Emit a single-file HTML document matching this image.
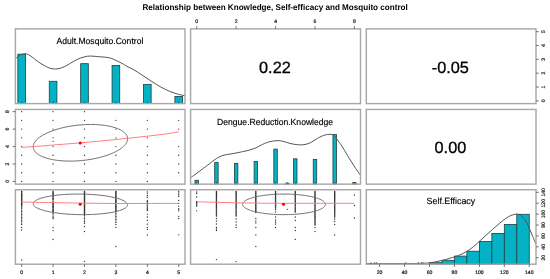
<!DOCTYPE html>
<html><head><meta charset="utf-8"><title>Relationship between Knowledge, Self-efficacy and Mosquito control</title>
<style>html,body{margin:0;padding:0;background:#fff;width:550px;height:279px;overflow:hidden}svg{display:block}</style>
</head><body>
<svg width="550" height="279" viewBox="0 0 550 279" text-rendering="geometricPrecision">
<rect width="550" height="279" fill="#fff"/>
<text x="275.1" y="9.6" text-rendering="geometricPrecision" text-anchor="middle" font-family="Liberation Sans, Arial, sans-serif" font-weight="bold" font-size="8.35" textLength="265.3" lengthAdjust="spacingAndGlyphs" fill="#000">Relationship between Knowledge, Self-efficacy and Mosquito control</text>
<rect x="17.85" y="54.2" width="7.66" height="49.4" fill="#03B2C4" stroke="#1f3f44" stroke-width="0.8"/>
<rect x="49.26" y="81.29" width="7.66" height="22.31" fill="#03B2C4" stroke="#1f3f44" stroke-width="0.8"/>
<rect x="80.66" y="63.66" width="7.66" height="39.94" fill="#03B2C4" stroke="#1f3f44" stroke-width="0.8"/>
<rect x="112.07" y="65.55" width="7.66" height="38.05" fill="#03B2C4" stroke="#1f3f44" stroke-width="0.8"/>
<rect x="143.48" y="84.58" width="7.66" height="19.02" fill="#03B2C4" stroke="#1f3f44" stroke-width="0.8"/>
<rect x="174.89" y="96.43" width="7.66" height="7.17" fill="#03B2C4" stroke="#1f3f44" stroke-width="0.8"/>
<line x1="21.68" y1="103.6" x2="21.68" y2="101.6" stroke="#333" stroke-width="0.8"/>
<line x1="53.09" y1="103.6" x2="53.09" y2="101.6" stroke="#333" stroke-width="0.8"/>
<line x1="84.5" y1="103.6" x2="84.5" y2="101.6" stroke="#333" stroke-width="0.8"/>
<line x1="115.9" y1="103.6" x2="115.9" y2="101.6" stroke="#333" stroke-width="0.8"/>
<line x1="147.31" y1="103.6" x2="147.31" y2="101.6" stroke="#333" stroke-width="0.8"/>
<line x1="178.72" y1="103.6" x2="178.72" y2="101.6" stroke="#333" stroke-width="0.8"/>
<path d="M15.4,58.6 C16.17,58.03 18.42,56.02 20,55.2 C21.58,54.38 23.23,53.65 24.9,53.7 C26.57,53.75 28.18,54.45 30,55.5 C31.82,56.55 33.97,58.65 35.8,60 C37.63,61.35 39.18,62.47 41,63.6 C42.82,64.73 45.03,65.98 46.7,66.8 C48.37,67.62 49.53,68.13 51,68.5 C52.47,68.87 53.92,69.05 55.5,69 C57.08,68.95 58.87,68.65 60.5,68.2 C62.13,67.75 63.8,67.03 65.3,66.3 C66.8,65.57 68.13,64.62 69.5,63.8 C70.87,62.98 72.25,62.1 73.5,61.4 C74.75,60.7 75.77,60.18 77,59.6 C78.23,59.02 79.15,58.47 80.9,57.9 C82.65,57.33 85.48,56.48 87.5,56.2 C89.52,55.92 91.37,56.13 93,56.2 C94.63,56.27 95.63,56.47 97.3,56.6 C98.97,56.73 101.18,56.83 103,57 C104.82,57.17 106.7,57.33 108.2,57.6 C109.7,57.87 110.73,58.15 112,58.6 C113.27,59.05 114.5,59.68 115.8,60.3 C117.1,60.92 118.52,61.65 119.8,62.3 C121.08,62.95 122.13,63.43 123.5,64.2 C124.87,64.97 126.25,65.95 128,66.9 C129.75,67.85 131.52,68.45 134,69.9 C136.48,71.35 139.92,73.65 142.9,75.6 C145.88,77.55 148.92,79.7 151.9,81.6 C154.88,83.5 157.82,85.37 160.8,87 C163.78,88.63 166.82,90.17 169.8,91.4 C172.78,92.63 176.13,93.67 178.7,94.4 C181.27,95.13 184.12,95.57 185.2,95.8" fill="none" stroke="#555555" stroke-width="1.0" stroke-linejoin="round"/>
<text x="99.9" y="43.9" text-anchor="middle" font-family="Liberation Sans, Arial, sans-serif" font-size="8.85" textLength="86.9" lengthAdjust="spacingAndGlyphs" fill="#000" stroke="#000" stroke-width="0.15">Adult.Mosquito.Control</text>
<rect x="194.98" y="180.3" width="3.46" height="3.85" fill="#03B2C4" stroke="#1f3f44" stroke-width="0.8"/>
<rect x="214.69" y="162.6" width="3.46" height="21.55" fill="#03B2C4" stroke="#1f3f44" stroke-width="0.8"/>
<rect x="234.4" y="163.4" width="3.46" height="20.75" fill="#03B2C4" stroke="#1f3f44" stroke-width="0.8"/>
<rect x="254.11" y="161.4" width="3.46" height="22.75" fill="#03B2C4" stroke="#1f3f44" stroke-width="0.8"/>
<rect x="273.82" y="149.1" width="3.46" height="35.05" fill="#03B2C4" stroke="#1f3f44" stroke-width="0.8"/>
<rect x="285.65" y="183.2" width="3.46" height="0.95" fill="#03B2C4" stroke="#1f3f44" stroke-width="0.8"/>
<rect x="293.53" y="158.8" width="3.46" height="25.35" fill="#03B2C4" stroke="#1f3f44" stroke-width="0.8"/>
<rect x="313.24" y="159.4" width="3.46" height="24.75" fill="#03B2C4" stroke="#1f3f44" stroke-width="0.8"/>
<rect x="332.95" y="134.5" width="3.46" height="49.65" fill="#03B2C4" stroke="#1f3f44" stroke-width="0.8"/>
<rect x="352.66" y="182.6" width="3.46" height="1.55" fill="#03B2C4" stroke="#1f3f44" stroke-width="0.8"/>
<line x1="196.71" y1="184.15" x2="196.71" y2="182.15" stroke="#333" stroke-width="0.8"/>
<line x1="216.42" y1="184.15" x2="216.42" y2="182.15" stroke="#333" stroke-width="0.8"/>
<line x1="236.13" y1="184.15" x2="236.13" y2="182.15" stroke="#333" stroke-width="0.8"/>
<line x1="255.84" y1="184.15" x2="255.84" y2="182.15" stroke="#333" stroke-width="0.8"/>
<line x1="275.55" y1="184.15" x2="275.55" y2="182.15" stroke="#333" stroke-width="0.8"/>
<line x1="287.38" y1="184.15" x2="287.38" y2="182.15" stroke="#333" stroke-width="0.8"/>
<line x1="295.26" y1="184.15" x2="295.26" y2="182.15" stroke="#333" stroke-width="0.8"/>
<line x1="314.97" y1="184.15" x2="314.97" y2="182.15" stroke="#333" stroke-width="0.8"/>
<line x1="334.68" y1="184.15" x2="334.68" y2="182.15" stroke="#333" stroke-width="0.8"/>
<line x1="354.39" y1="184.15" x2="354.39" y2="182.15" stroke="#333" stroke-width="0.8"/>
<path d="M190.7,177.65 C191.42,177.13 193.27,175.82 195,174.55 C196.73,173.28 199.35,171.35 201.1,170.05 C202.85,168.75 204.05,167.83 205.5,166.75 C206.95,165.67 208.55,164.52 209.8,163.55 C211.05,162.58 211.9,161.78 213,160.95 C214.1,160.12 215.23,159.28 216.4,158.55 C217.57,157.82 218.73,157.12 220,156.55 C221.27,155.98 222.5,155.53 224,155.15 C225.5,154.77 227.37,154.53 229,154.25 C230.63,153.97 232.3,153.72 233.8,153.45 C235.3,153.18 236.55,152.95 238,152.65 C239.45,152.35 240.83,152.02 242.5,151.65 C244.17,151.28 245.77,151.08 248,150.45 C250.23,149.82 253.9,148.63 255.9,147.85 C257.9,147.07 258.55,146.48 260,145.75 C261.45,145.02 263.18,144.07 264.6,143.45 C266.02,142.83 267.22,142.43 268.5,142.05 C269.78,141.67 271.05,141.37 272.3,141.15 C273.55,140.93 274.73,140.82 276,140.75 C277.27,140.68 278.73,140.65 279.9,140.75 C281.07,140.85 281.9,141.08 283,141.35 C284.1,141.62 285.33,142.02 286.5,142.35 C287.67,142.68 288.73,143.03 290,143.35 C291.27,143.67 292.52,144 294.1,144.25 C295.68,144.5 298.02,144.77 299.5,144.85 C300.98,144.93 301.75,144.88 303,144.75 C304.25,144.62 305.75,144.4 307,144.05 C308.25,143.7 309.33,143.23 310.5,142.65 C311.67,142.07 312.83,141.25 314,140.55 C315.17,139.85 316.35,139.12 317.5,138.45 C318.65,137.78 319.55,137.15 320.9,136.55 C322.25,135.95 324.25,135.22 325.6,134.85 C326.95,134.48 327.83,134.38 329,134.35 C330.17,134.32 331.6,134.27 332.6,134.65 C333.6,135.03 334.23,135.85 335,136.65 C335.77,137.45 336.45,138.43 337.2,139.45 C337.95,140.47 338.72,141.65 339.5,142.75 C340.28,143.85 340.53,143.88 341.9,146.05 C343.27,148.22 345.68,152.43 347.7,155.75 C349.72,159.07 351.85,162.67 354,165.95 C356.15,169.23 359.5,173.87 360.6,175.45" fill="none" stroke="#555555" stroke-width="1.0" stroke-linejoin="round"/>
<text x="275.1" y="124.5" text-anchor="middle" font-family="Liberation Sans, Arial, sans-serif" font-size="8.85" textLength="116.1" lengthAdjust="spacingAndGlyphs" fill="#000" stroke="#000" stroke-width="0.15">Dengue.Reduction.Knowledge</text>
<rect x="429.49" y="262.7" width="12.47" height="1.5" fill="#03B2C4" stroke="#1f3f44" stroke-width="0.8"/>
<rect x="441.96" y="260.3" width="12.47" height="3.9" fill="#03B2C4" stroke="#1f3f44" stroke-width="0.8"/>
<rect x="454.43" y="256.1" width="12.47" height="8.1" fill="#03B2C4" stroke="#1f3f44" stroke-width="0.8"/>
<rect x="466.9" y="251.2" width="12.47" height="13" fill="#03B2C4" stroke="#1f3f44" stroke-width="0.8"/>
<rect x="479.38" y="241.4" width="12.47" height="22.8" fill="#03B2C4" stroke="#1f3f44" stroke-width="0.8"/>
<rect x="491.85" y="233.4" width="12.47" height="30.8" fill="#03B2C4" stroke="#1f3f44" stroke-width="0.8"/>
<rect x="504.32" y="224.4" width="12.47" height="39.8" fill="#03B2C4" stroke="#1f3f44" stroke-width="0.8"/>
<rect x="516.79" y="214.3" width="12.47" height="49.9" fill="#03B2C4" stroke="#1f3f44" stroke-width="0.8"/>
<line x1="371.11" y1="264.2" x2="371.11" y2="262.2" stroke="#333" stroke-width="0.8"/>
<line x1="374.61" y1="264.2" x2="374.61" y2="262.2" stroke="#333" stroke-width="0.8"/>
<line x1="376.48" y1="264.2" x2="376.48" y2="262.2" stroke="#333" stroke-width="0.8"/>
<line x1="405.79" y1="264.2" x2="405.79" y2="262.2" stroke="#333" stroke-width="0.8"/>
<line x1="418.51" y1="264.2" x2="418.51" y2="262.2" stroke="#333" stroke-width="0.8"/>
<line x1="421.5" y1="264.2" x2="421.5" y2="262.2" stroke="#333" stroke-width="0.8"/>
<line x1="423" y1="264.2" x2="423" y2="262.2" stroke="#333" stroke-width="0.8"/>
<path d="M366.2,263.6 C371.83,263.6 391.53,263.63 400,263.6 C408.47,263.57 412.12,263.52 417,263.4 C421.88,263.28 425.12,263.4 429.3,262.9 C433.48,262.4 437.83,261.43 442.1,260.4 C446.37,259.37 451.75,257.7 454.9,256.7 C458.05,255.7 458.97,255.3 461,254.4 C463.03,253.5 464.97,252.63 467.1,251.3 C469.23,249.97 471.7,248.12 473.8,246.4 C475.9,244.68 477.63,242.88 479.7,241 C481.77,239.12 484.03,237.05 486.2,235.1 C488.37,233.15 490.52,231.23 492.7,229.3 C494.88,227.37 497.12,225.32 499.3,223.5 C501.48,221.68 503.87,219.73 505.8,218.4 C507.73,217.07 509.32,216.18 510.9,215.5 C512.48,214.82 514.08,214.5 515.3,214.3 C516.52,214.1 517,213.87 518.2,214.3 C519.4,214.73 521.17,215.62 522.5,216.9 C523.83,218.18 524.98,219.93 526.2,222 C527.42,224.07 528.72,226.88 529.8,229.3 C530.88,231.72 531.67,234.05 532.7,236.5 C533.73,238.95 535.45,242.75 536,244" fill="none" stroke="#555555" stroke-width="1.0" stroke-linejoin="round"/>
<text x="450.9" y="204.3" text-anchor="middle" font-family="Liberation Sans, Arial, sans-serif" font-size="9.0" textLength="48.6" lengthAdjust="spacingAndGlyphs" fill="#000" stroke="#000" stroke-width="0.15">Self.Efficacy</text>
<text x="274.9" y="72.8" text-anchor="middle" font-family="Liberation Sans, Arial, sans-serif" font-size="16.3" fill="#000" stroke="#000" stroke-width="0.3">0.22</text>
<text x="450.3" y="72.7" text-anchor="middle" font-family="Liberation Sans, Arial, sans-serif" font-size="16.3" fill="#000" stroke="#000" stroke-width="0.3">-0.05</text>
<text x="450.4" y="152.9" text-anchor="middle" font-family="Liberation Sans, Arial, sans-serif" font-size="16.3" fill="#000" stroke="#000" stroke-width="0.3">0.00</text>
<circle cx="21.68" cy="181.44" r="0.66" fill="#303030"/>
<circle cx="21.68" cy="172.72" r="0.66" fill="#303030"/>
<circle cx="21.68" cy="163.99" r="0.66" fill="#303030"/>
<circle cx="21.68" cy="155.26" r="0.66" fill="#303030"/>
<circle cx="21.68" cy="146.54" r="0.66" fill="#303030"/>
<circle cx="21.68" cy="137.81" r="0.66" fill="#303030"/>
<circle cx="21.68" cy="129.08" r="0.66" fill="#303030"/>
<circle cx="21.68" cy="120.36" r="0.66" fill="#303030"/>
<circle cx="21.68" cy="111.63" r="0.66" fill="#303030"/>
<circle cx="53.09" cy="181.44" r="0.66" fill="#303030"/>
<circle cx="53.09" cy="172.72" r="0.66" fill="#303030"/>
<circle cx="53.09" cy="163.99" r="0.66" fill="#303030"/>
<circle cx="53.09" cy="155.26" r="0.66" fill="#303030"/>
<circle cx="53.09" cy="146.54" r="0.66" fill="#303030"/>
<circle cx="53.09" cy="137.81" r="0.66" fill="#303030"/>
<circle cx="53.09" cy="129.08" r="0.66" fill="#303030"/>
<circle cx="53.09" cy="120.36" r="0.66" fill="#303030"/>
<circle cx="53.09" cy="111.63" r="0.66" fill="#303030"/>
<circle cx="84.5" cy="181.44" r="0.66" fill="#303030"/>
<circle cx="84.5" cy="172.72" r="0.66" fill="#303030"/>
<circle cx="84.5" cy="163.99" r="0.66" fill="#303030"/>
<circle cx="84.5" cy="155.26" r="0.66" fill="#303030"/>
<circle cx="84.5" cy="146.54" r="0.66" fill="#303030"/>
<circle cx="84.5" cy="137.81" r="0.66" fill="#303030"/>
<circle cx="84.5" cy="129.08" r="0.66" fill="#303030"/>
<circle cx="84.5" cy="120.36" r="0.66" fill="#303030"/>
<circle cx="84.5" cy="111.63" r="0.66" fill="#303030"/>
<circle cx="53.09" cy="141.3" r="0.66" fill="#303030"/>
<circle cx="115.9" cy="181.44" r="0.66" fill="#303030"/>
<circle cx="115.9" cy="172.72" r="0.66" fill="#303030"/>
<circle cx="115.9" cy="163.99" r="0.66" fill="#303030"/>
<circle cx="115.9" cy="155.26" r="0.66" fill="#303030"/>
<circle cx="115.9" cy="146.54" r="0.66" fill="#303030"/>
<circle cx="115.9" cy="137.81" r="0.66" fill="#303030"/>
<circle cx="115.9" cy="129.08" r="0.66" fill="#303030"/>
<circle cx="115.9" cy="120.36" r="0.66" fill="#303030"/>
<circle cx="147.31" cy="181.44" r="0.66" fill="#303030"/>
<circle cx="147.31" cy="172.72" r="0.66" fill="#303030"/>
<circle cx="147.31" cy="163.99" r="0.66" fill="#303030"/>
<circle cx="147.31" cy="155.26" r="0.66" fill="#303030"/>
<circle cx="147.31" cy="146.54" r="0.66" fill="#303030"/>
<circle cx="147.31" cy="137.81" r="0.66" fill="#303030"/>
<circle cx="147.31" cy="129.08" r="0.66" fill="#303030"/>
<circle cx="147.31" cy="120.36" r="0.66" fill="#303030"/>
<circle cx="178.72" cy="172.72" r="0.66" fill="#303030"/>
<circle cx="178.72" cy="163.99" r="0.66" fill="#303030"/>
<circle cx="178.72" cy="155.26" r="0.66" fill="#303030"/>
<circle cx="178.72" cy="146.54" r="0.66" fill="#303030"/>
<circle cx="178.72" cy="129.08" r="0.66" fill="#303030"/>
<circle cx="178.72" cy="120.36" r="0.66" fill="#303030"/>
<path d="M117.28,128.47 L115.69,127.89 L114,127.35 L112.22,126.86 L110.35,126.41 L108.4,126 L106.37,125.64 L104.27,125.32 L102.1,125.06 L99.88,124.84 L97.6,124.67 L95.28,124.55 L92.91,124.48 L90.51,124.46 L88.09,124.49 L85.64,124.57 L83.18,124.7 L80.71,124.88 L78.23,125.11 L75.77,125.39 L73.32,125.72 L70.88,126.09 L68.48,126.51 L66.1,126.97 L63.77,127.48 L61.48,128.03 L59.24,128.62 L57.06,129.24 L54.95,129.91 L52.9,130.61 L50.93,131.34 L49.04,132.11 L47.24,132.9 L45.53,133.72 L43.91,134.57 L42.4,135.44 L40.98,136.32 L39.68,137.23 L38.49,138.15 L37.41,139.09 L36.45,140.03 L35.61,140.98 L34.89,141.94 L34.3,142.9 L33.84,143.86 L33.5,144.81 L33.29,145.76 L33.21,146.71 L33.26,147.64 L33.44,148.56 L33.74,149.46 L34.18,150.34 L34.74,151.21 L35.43,152.05 L36.24,152.86 L37.17,153.65 L38.22,154.41 L39.39,155.13 L40.67,155.82 L42.05,156.48 L43.54,157.1 L45.14,157.68 L46.83,158.22 L48.61,158.71 L50.48,159.17 L52.43,159.57 L54.46,159.93 L56.56,160.25 L58.72,160.52 L60.95,160.73 L63.22,160.9 L65.55,161.02 L67.91,161.09 L70.31,161.11 L72.74,161.08 L75.19,161 L77.65,160.87 L80.12,160.69 L82.59,160.46 L85.06,160.18 L87.51,159.85 L89.94,159.48 L92.35,159.06 L94.72,158.6 L97.06,158.09 L99.35,157.54 L101.58,156.96 L103.76,156.33 L105.88,155.66 L107.92,154.96 L109.89,154.23 L111.78,153.47 L113.59,152.67 L115.3,151.85 L116.91,151 L118.43,150.14 L119.84,149.25 L121.15,148.34 L122.34,147.42 L123.42,146.48 L124.38,145.54 L125.22,144.59 L125.93,143.63 L126.53,142.67 L126.99,141.71 L127.33,140.76 L127.54,139.81 L127.62,138.86 L127.57,137.93 L127.39,137.01 L127.08,136.11 L126.65,135.23 L126.08,134.37 L125.4,133.52 L124.59,132.71 L123.66,131.92 L122.61,131.16 L121.44,130.44 L120.16,129.75 L118.77,129.09 L117.28,128.47Z" fill="none" stroke="#707070" stroke-width="1.0"/>
<path d="M21.4,147.4 C24.5,147.18 33.57,146.58 40,146.1 C46.43,145.62 53.32,145.03 60,144.5 C66.68,143.97 73.43,143.47 80.1,142.9 C86.77,142.33 93.35,141.73 100,141.1 C106.65,140.47 113.33,139.78 120,139.1 C126.67,138.42 133.33,137.73 140,137 C146.67,136.27 153.55,135.53 160,134.7 C166.45,133.87 175.58,132.45 178.7,132" fill="none" stroke="#ff8080" stroke-width="1.0" stroke-linejoin="round"/>
<circle cx="80.25" cy="143" r="1.55" fill="#ff0000"/>
<circle cx="21.68" cy="191.3" r="0.75" fill="#303030"/>
<circle cx="21.68" cy="192.12" r="0.75" fill="#303030"/>
<circle cx="21.68" cy="192.93" r="0.75" fill="#303030"/>
<circle cx="21.68" cy="193.75" r="0.75" fill="#303030"/>
<circle cx="21.68" cy="194.57" r="0.75" fill="#303030"/>
<circle cx="21.68" cy="195.38" r="0.75" fill="#303030"/>
<circle cx="21.68" cy="196.2" r="0.75" fill="#303030"/>
<circle cx="21.68" cy="197.02" r="0.75" fill="#303030"/>
<circle cx="21.68" cy="197.83" r="0.75" fill="#303030"/>
<circle cx="21.68" cy="198.65" r="0.75" fill="#303030"/>
<circle cx="21.68" cy="199.47" r="0.75" fill="#303030"/>
<circle cx="21.68" cy="200.28" r="0.75" fill="#303030"/>
<circle cx="21.68" cy="201.1" r="0.75" fill="#303030"/>
<circle cx="21.68" cy="201.92" r="0.75" fill="#303030"/>
<circle cx="21.68" cy="202.73" r="0.75" fill="#303030"/>
<circle cx="21.68" cy="203.55" r="0.75" fill="#303030"/>
<circle cx="21.68" cy="204.37" r="0.75" fill="#303030"/>
<circle cx="21.68" cy="205.18" r="0.75" fill="#303030"/>
<circle cx="21.68" cy="206" r="0.75" fill="#303030"/>
<circle cx="21.68" cy="207.2" r="0.68" fill="#303030"/>
<circle cx="21.68" cy="208.64" r="0.68" fill="#303030"/>
<circle cx="21.68" cy="210.08" r="0.68" fill="#303030"/>
<circle cx="21.68" cy="211.52" r="0.68" fill="#303030"/>
<circle cx="21.68" cy="212.97" r="0.68" fill="#303030"/>
<circle cx="21.68" cy="214.41" r="0.68" fill="#303030"/>
<circle cx="21.68" cy="215.85" r="0.68" fill="#303030"/>
<circle cx="21.68" cy="217.29" r="0.68" fill="#303030"/>
<circle cx="21.68" cy="218.73" r="0.68" fill="#303030"/>
<circle cx="21.68" cy="220.18" r="0.68" fill="#303030"/>
<circle cx="21.68" cy="221.62" r="0.68" fill="#303030"/>
<circle cx="21.68" cy="223.06" r="0.68" fill="#303030"/>
<circle cx="21.68" cy="224.5" r="0.68" fill="#303030"/>
<circle cx="21.68" cy="227.5" r="0.66" fill="#303030"/>
<circle cx="21.68" cy="230" r="0.66" fill="#303030"/>
<circle cx="21.68" cy="259.9" r="0.66" fill="#303030"/>
<circle cx="53.09" cy="191.3" r="0.75" fill="#303030"/>
<circle cx="53.09" cy="192.13" r="0.75" fill="#303030"/>
<circle cx="53.09" cy="192.96" r="0.75" fill="#303030"/>
<circle cx="53.09" cy="193.79" r="0.75" fill="#303030"/>
<circle cx="53.09" cy="194.62" r="0.75" fill="#303030"/>
<circle cx="53.09" cy="195.45" r="0.75" fill="#303030"/>
<circle cx="53.09" cy="196.28" r="0.75" fill="#303030"/>
<circle cx="53.09" cy="197.11" r="0.75" fill="#303030"/>
<circle cx="53.09" cy="197.94" r="0.75" fill="#303030"/>
<circle cx="53.09" cy="198.77" r="0.75" fill="#303030"/>
<circle cx="53.09" cy="199.6" r="0.75" fill="#303030"/>
<circle cx="53.09" cy="201.1" r="0.75" fill="#303030"/>
<circle cx="53.09" cy="201.88" r="0.75" fill="#303030"/>
<circle cx="53.09" cy="202.66" r="0.75" fill="#303030"/>
<circle cx="53.09" cy="203.44" r="0.75" fill="#303030"/>
<circle cx="53.09" cy="204.21" r="0.75" fill="#303030"/>
<circle cx="53.09" cy="204.99" r="0.75" fill="#303030"/>
<circle cx="53.09" cy="205.77" r="0.75" fill="#303030"/>
<circle cx="53.09" cy="206.55" r="0.75" fill="#303030"/>
<circle cx="53.09" cy="207.33" r="0.75" fill="#303030"/>
<circle cx="53.09" cy="208.11" r="0.75" fill="#303030"/>
<circle cx="53.09" cy="208.89" r="0.75" fill="#303030"/>
<circle cx="53.09" cy="209.66" r="0.75" fill="#303030"/>
<circle cx="53.09" cy="210.44" r="0.75" fill="#303030"/>
<circle cx="53.09" cy="211.22" r="0.75" fill="#303030"/>
<circle cx="53.09" cy="212" r="0.75" fill="#303030"/>
<circle cx="53.09" cy="213.5" r="0.68" fill="#303030"/>
<circle cx="53.09" cy="214.82" r="0.68" fill="#303030"/>
<circle cx="53.09" cy="216.15" r="0.68" fill="#303030"/>
<circle cx="53.09" cy="217.48" r="0.68" fill="#303030"/>
<circle cx="53.09" cy="218.8" r="0.68" fill="#303030"/>
<circle cx="53.09" cy="227.5" r="0.66" fill="#303030"/>
<circle cx="53.09" cy="230.7" r="0.66" fill="#303030"/>
<circle cx="53.09" cy="239.5" r="0.66" fill="#303030"/>
<circle cx="84.5" cy="191.6" r="0.75" fill="#303030"/>
<circle cx="84.5" cy="192.4" r="0.75" fill="#303030"/>
<circle cx="84.5" cy="193.2" r="0.75" fill="#303030"/>
<circle cx="84.5" cy="194" r="0.75" fill="#303030"/>
<circle cx="84.5" cy="194.8" r="0.75" fill="#303030"/>
<circle cx="84.5" cy="195.6" r="0.75" fill="#303030"/>
<circle cx="84.5" cy="196.4" r="0.75" fill="#303030"/>
<circle cx="84.5" cy="197.2" r="0.75" fill="#303030"/>
<circle cx="84.5" cy="198" r="0.75" fill="#303030"/>
<circle cx="84.5" cy="198.8" r="0.75" fill="#303030"/>
<circle cx="84.5" cy="199.6" r="0.75" fill="#303030"/>
<circle cx="84.5" cy="200.4" r="0.75" fill="#303030"/>
<circle cx="84.5" cy="201.2" r="0.75" fill="#303030"/>
<circle cx="84.5" cy="202" r="0.75" fill="#303030"/>
<circle cx="84.5" cy="202.8" r="0.75" fill="#303030"/>
<circle cx="84.5" cy="203.6" r="0.75" fill="#303030"/>
<circle cx="84.5" cy="204.4" r="0.75" fill="#303030"/>
<circle cx="84.5" cy="205.2" r="0.75" fill="#303030"/>
<circle cx="84.5" cy="206" r="0.75" fill="#303030"/>
<circle cx="84.5" cy="206.8" r="0.75" fill="#303030"/>
<circle cx="84.5" cy="207.6" r="0.75" fill="#303030"/>
<circle cx="84.5" cy="208.4" r="0.75" fill="#303030"/>
<circle cx="84.5" cy="209.2" r="0.75" fill="#303030"/>
<circle cx="84.5" cy="210" r="0.75" fill="#303030"/>
<circle cx="84.5" cy="210.8" r="0.75" fill="#303030"/>
<circle cx="84.5" cy="211.6" r="0.75" fill="#303030"/>
<circle cx="84.5" cy="212.4" r="0.75" fill="#303030"/>
<circle cx="84.5" cy="213.2" r="0.75" fill="#303030"/>
<circle cx="84.5" cy="214" r="0.75" fill="#303030"/>
<circle cx="84.5" cy="215.5" r="0.68" fill="#303030"/>
<circle cx="84.5" cy="217.06" r="0.68" fill="#303030"/>
<circle cx="84.5" cy="218.62" r="0.68" fill="#303030"/>
<circle cx="84.5" cy="220.18" r="0.68" fill="#303030"/>
<circle cx="84.5" cy="221.74" r="0.68" fill="#303030"/>
<circle cx="84.5" cy="223.3" r="0.68" fill="#303030"/>
<circle cx="84.5" cy="226.4" r="0.66" fill="#303030"/>
<circle cx="84.5" cy="231.5" r="0.66" fill="#303030"/>
<circle cx="84.5" cy="261.3" r="0.66" fill="#303030"/>
<circle cx="115.9" cy="191.5" r="0.75" fill="#303030"/>
<circle cx="115.9" cy="192.29" r="0.75" fill="#303030"/>
<circle cx="115.9" cy="193.08" r="0.75" fill="#303030"/>
<circle cx="115.9" cy="193.87" r="0.75" fill="#303030"/>
<circle cx="115.9" cy="194.65" r="0.75" fill="#303030"/>
<circle cx="115.9" cy="195.44" r="0.75" fill="#303030"/>
<circle cx="115.9" cy="196.23" r="0.75" fill="#303030"/>
<circle cx="115.9" cy="197.02" r="0.75" fill="#303030"/>
<circle cx="115.9" cy="197.81" r="0.75" fill="#303030"/>
<circle cx="115.9" cy="198.6" r="0.75" fill="#303030"/>
<circle cx="115.9" cy="199.38" r="0.75" fill="#303030"/>
<circle cx="115.9" cy="200.17" r="0.75" fill="#303030"/>
<circle cx="115.9" cy="200.96" r="0.75" fill="#303030"/>
<circle cx="115.9" cy="201.75" r="0.75" fill="#303030"/>
<circle cx="115.9" cy="202.54" r="0.75" fill="#303030"/>
<circle cx="115.9" cy="203.33" r="0.75" fill="#303030"/>
<circle cx="115.9" cy="204.12" r="0.75" fill="#303030"/>
<circle cx="115.9" cy="204.9" r="0.75" fill="#303030"/>
<circle cx="115.9" cy="205.69" r="0.75" fill="#303030"/>
<circle cx="115.9" cy="206.48" r="0.75" fill="#303030"/>
<circle cx="115.9" cy="207.27" r="0.75" fill="#303030"/>
<circle cx="115.9" cy="208.06" r="0.75" fill="#303030"/>
<circle cx="115.9" cy="208.85" r="0.75" fill="#303030"/>
<circle cx="115.9" cy="209.63" r="0.75" fill="#303030"/>
<circle cx="115.9" cy="210.42" r="0.75" fill="#303030"/>
<circle cx="115.9" cy="211.21" r="0.75" fill="#303030"/>
<circle cx="115.9" cy="212" r="0.75" fill="#303030"/>
<circle cx="115.9" cy="213.5" r="0.68" fill="#303030"/>
<circle cx="115.9" cy="214.98" r="0.68" fill="#303030"/>
<circle cx="115.9" cy="216.47" r="0.68" fill="#303030"/>
<circle cx="115.9" cy="217.95" r="0.68" fill="#303030"/>
<circle cx="115.9" cy="219.43" r="0.68" fill="#303030"/>
<circle cx="115.9" cy="220.92" r="0.68" fill="#303030"/>
<circle cx="115.9" cy="222.4" r="0.68" fill="#303030"/>
<circle cx="115.9" cy="224.5" r="0.66" fill="#303030"/>
<circle cx="115.9" cy="227.5" r="0.66" fill="#303030"/>
<circle cx="115.9" cy="246.5" r="0.66" fill="#303030"/>
<circle cx="147.31" cy="192" r="0.68" fill="#303030"/>
<circle cx="147.31" cy="193.83" r="0.68" fill="#303030"/>
<circle cx="147.31" cy="195.67" r="0.68" fill="#303030"/>
<circle cx="147.31" cy="197.5" r="0.68" fill="#303030"/>
<circle cx="147.31" cy="200.4" r="0.68" fill="#303030"/>
<circle cx="147.31" cy="201.52" r="0.68" fill="#303030"/>
<circle cx="147.31" cy="202.64" r="0.68" fill="#303030"/>
<circle cx="147.31" cy="203.77" r="0.68" fill="#303030"/>
<circle cx="147.31" cy="204.89" r="0.68" fill="#303030"/>
<circle cx="147.31" cy="206.01" r="0.68" fill="#303030"/>
<circle cx="147.31" cy="207.13" r="0.68" fill="#303030"/>
<circle cx="147.31" cy="208.26" r="0.68" fill="#303030"/>
<circle cx="147.31" cy="209.38" r="0.68" fill="#303030"/>
<circle cx="147.31" cy="210.5" r="0.68" fill="#303030"/>
<circle cx="147.31" cy="214.3" r="0.66" fill="#303030"/>
<circle cx="147.31" cy="217" r="0.66" fill="#303030"/>
<circle cx="147.31" cy="220.4" r="0.66" fill="#303030"/>
<circle cx="147.31" cy="224.2" r="0.66" fill="#303030"/>
<circle cx="147.31" cy="227.5" r="0.66" fill="#303030"/>
<circle cx="147.31" cy="229.3" r="0.66" fill="#303030"/>
<circle cx="147.31" cy="234.9" r="0.66" fill="#303030"/>
<circle cx="178.72" cy="191.3" r="0.68" fill="#303030"/>
<circle cx="178.72" cy="193" r="0.68" fill="#303030"/>
<circle cx="178.72" cy="194.7" r="0.68" fill="#303030"/>
<circle cx="178.72" cy="196.4" r="0.68" fill="#303030"/>
<circle cx="178.72" cy="200.5" r="0.66" fill="#303030"/>
<circle cx="178.72" cy="203.4" r="0.66" fill="#303030"/>
<circle cx="178.72" cy="206.2" r="0.66" fill="#303030"/>
<circle cx="178.72" cy="208.6" r="0.66" fill="#303030"/>
<circle cx="178.72" cy="209.7" r="0.66" fill="#303030"/>
<circle cx="178.72" cy="210.8" r="0.66" fill="#303030"/>
<circle cx="178.72" cy="216.3" r="0.66" fill="#303030"/>
<circle cx="178.72" cy="218.5" r="0.66" fill="#303030"/>
<circle cx="178.72" cy="234.8" r="0.66" fill="#303030"/>
<path d="M47.88,211.46 L49.71,211.84 L51.63,212.2 L53.63,212.54 L55.7,212.85 L57.84,213.15 L60.04,213.41 L62.3,213.66 L64.6,213.88 L66.95,214.07 L69.34,214.24 L71.76,214.38 L74.2,214.49 L76.65,214.57 L79.12,214.63 L81.59,214.65 L84.06,214.65 L86.52,214.62 L88.96,214.57 L91.38,214.48 L93.77,214.37 L96.12,214.23 L98.43,214.06 L100.69,213.87 L102.89,213.65 L105.03,213.4 L107.11,213.13 L109.11,212.84 L111.03,212.52 L112.87,212.18 L114.62,211.82 L116.27,211.44 L117.83,211.04 L119.29,210.62 L120.63,210.18 L121.87,209.73 L123,209.26 L124,208.78 L124.89,208.29 L125.66,207.78 L126.3,207.27 L126.82,206.75 L127.21,206.22 L127.47,205.69 L127.6,205.15 L127.6,204.61 L127.48,204.07 L127.22,203.54 L126.84,203 L126.33,202.47 L125.69,201.94 L124.93,201.42 L124.05,200.91 L123.04,200.4 L121.92,199.91 L120.69,199.43 L119.35,198.96 L117.9,198.51 L116.34,198.08 L114.69,197.66 L112.95,197.26 L111.11,196.88 L109.19,196.52 L107.2,196.18 L105.13,195.86 L102.99,195.57 L100.79,195.3 L98.53,195.05 L96.22,194.84 L93.87,194.64 L91.49,194.48 L89.07,194.34 L86.63,194.23 L84.17,194.14 L81.7,194.09 L79.23,194.06 L76.76,194.06 L74.31,194.09 L71.87,194.15 L69.45,194.23 L67.06,194.34 L64.71,194.48 L62.4,194.65 L60.14,194.84 L57.94,195.06 L55.8,195.31 L53.72,195.58 L51.72,195.87 L49.8,196.19 L47.96,196.53 L46.21,196.89 L44.55,197.27 L43,197.68 L41.54,198.1 L40.19,198.53 L38.95,198.98 L37.83,199.45 L36.82,199.93 L35.93,200.43 L35.17,200.93 L34.53,201.44 L34.01,201.96 L33.62,202.49 L33.36,203.02 L33.23,203.56 L33.22,204.1 L33.35,204.64 L33.6,205.18 L33.99,205.71 L34.5,206.25 L35.14,206.77 L35.9,207.29 L36.78,207.81 L37.78,208.31 L38.9,208.8 L40.14,209.28 L41.48,209.75 L42.93,210.2 L44.48,210.64 L46.13,211.06 L47.88,211.46Z" fill="none" stroke="#707070" stroke-width="1.0"/>
<path d="M21.5,202 C26.7,202.1 42.25,202.4 52.7,202.6 C63.15,202.8 73.68,203.05 84.2,203.2 C94.72,203.35 105.27,203.46 115.8,203.5 C126.33,203.54 136.93,203.47 147.4,203.45 C157.87,203.43 173.4,203.41 178.6,203.4" fill="none" stroke="#ff8080" stroke-width="1.0" stroke-linejoin="round"/>
<circle cx="80.2" cy="204.2" r="1.55" fill="#ff0000"/>
<circle cx="196.71" cy="192" r="0.66" fill="#303030"/>
<circle cx="196.71" cy="193.5" r="0.66" fill="#303030"/>
<circle cx="196.71" cy="197" r="0.66" fill="#303030"/>
<circle cx="196.71" cy="210.8" r="0.66" fill="#303030"/>
<circle cx="196.71" cy="201.5" r="0.75" fill="#303030"/>
<circle cx="196.71" cy="202.62" r="0.75" fill="#303030"/>
<circle cx="196.71" cy="203.75" r="0.75" fill="#303030"/>
<circle cx="196.71" cy="204.88" r="0.75" fill="#303030"/>
<circle cx="196.71" cy="206" r="0.75" fill="#303030"/>
<circle cx="216.42" cy="191.5" r="0.75" fill="#303030"/>
<circle cx="216.42" cy="192.52" r="0.75" fill="#303030"/>
<circle cx="216.42" cy="193.54" r="0.75" fill="#303030"/>
<circle cx="216.42" cy="194.56" r="0.75" fill="#303030"/>
<circle cx="216.42" cy="195.58" r="0.75" fill="#303030"/>
<circle cx="216.42" cy="196.6" r="0.75" fill="#303030"/>
<circle cx="216.42" cy="197.62" r="0.75" fill="#303030"/>
<circle cx="216.42" cy="198.65" r="0.75" fill="#303030"/>
<circle cx="216.42" cy="199.67" r="0.75" fill="#303030"/>
<circle cx="216.42" cy="200.69" r="0.75" fill="#303030"/>
<circle cx="216.42" cy="201.71" r="0.75" fill="#303030"/>
<circle cx="216.42" cy="202.73" r="0.75" fill="#303030"/>
<circle cx="216.42" cy="203.75" r="0.75" fill="#303030"/>
<circle cx="216.42" cy="204.77" r="0.75" fill="#303030"/>
<circle cx="216.42" cy="205.79" r="0.75" fill="#303030"/>
<circle cx="216.42" cy="206.81" r="0.75" fill="#303030"/>
<circle cx="216.42" cy="207.83" r="0.75" fill="#303030"/>
<circle cx="216.42" cy="208.85" r="0.75" fill="#303030"/>
<circle cx="216.42" cy="209.88" r="0.75" fill="#303030"/>
<circle cx="216.42" cy="210.9" r="0.75" fill="#303030"/>
<circle cx="216.42" cy="211.92" r="0.75" fill="#303030"/>
<circle cx="216.42" cy="212.94" r="0.75" fill="#303030"/>
<circle cx="216.42" cy="213.96" r="0.75" fill="#303030"/>
<circle cx="216.42" cy="214.98" r="0.75" fill="#303030"/>
<circle cx="216.42" cy="216" r="0.75" fill="#303030"/>
<circle cx="216.42" cy="218.5" r="0.66" fill="#303030"/>
<circle cx="216.42" cy="221" r="0.66" fill="#303030"/>
<circle cx="216.42" cy="224" r="0.66" fill="#303030"/>
<circle cx="216.42" cy="227.5" r="0.66" fill="#303030"/>
<circle cx="216.42" cy="229" r="0.66" fill="#303030"/>
<circle cx="216.42" cy="230.5" r="0.66" fill="#303030"/>
<circle cx="216.42" cy="259.6" r="0.66" fill="#303030"/>
<circle cx="236.13" cy="191.5" r="0.75" fill="#303030"/>
<circle cx="236.13" cy="192.52" r="0.75" fill="#303030"/>
<circle cx="236.13" cy="193.54" r="0.75" fill="#303030"/>
<circle cx="236.13" cy="194.56" r="0.75" fill="#303030"/>
<circle cx="236.13" cy="195.58" r="0.75" fill="#303030"/>
<circle cx="236.13" cy="196.6" r="0.75" fill="#303030"/>
<circle cx="236.13" cy="197.62" r="0.75" fill="#303030"/>
<circle cx="236.13" cy="198.65" r="0.75" fill="#303030"/>
<circle cx="236.13" cy="199.67" r="0.75" fill="#303030"/>
<circle cx="236.13" cy="200.69" r="0.75" fill="#303030"/>
<circle cx="236.13" cy="201.71" r="0.75" fill="#303030"/>
<circle cx="236.13" cy="202.73" r="0.75" fill="#303030"/>
<circle cx="236.13" cy="203.75" r="0.75" fill="#303030"/>
<circle cx="236.13" cy="204.77" r="0.75" fill="#303030"/>
<circle cx="236.13" cy="205.79" r="0.75" fill="#303030"/>
<circle cx="236.13" cy="206.81" r="0.75" fill="#303030"/>
<circle cx="236.13" cy="207.83" r="0.75" fill="#303030"/>
<circle cx="236.13" cy="208.85" r="0.75" fill="#303030"/>
<circle cx="236.13" cy="209.88" r="0.75" fill="#303030"/>
<circle cx="236.13" cy="210.9" r="0.75" fill="#303030"/>
<circle cx="236.13" cy="211.92" r="0.75" fill="#303030"/>
<circle cx="236.13" cy="212.94" r="0.75" fill="#303030"/>
<circle cx="236.13" cy="213.96" r="0.75" fill="#303030"/>
<circle cx="236.13" cy="214.98" r="0.75" fill="#303030"/>
<circle cx="236.13" cy="216" r="0.75" fill="#303030"/>
<circle cx="236.13" cy="219" r="0.66" fill="#303030"/>
<circle cx="236.13" cy="222" r="0.66" fill="#303030"/>
<circle cx="236.13" cy="225" r="0.66" fill="#303030"/>
<circle cx="236.13" cy="227.5" r="0.66" fill="#303030"/>
<circle cx="236.13" cy="261.6" r="0.66" fill="#303030"/>
<circle cx="255.84" cy="191.5" r="0.75" fill="#303030"/>
<circle cx="255.84" cy="192.5" r="0.75" fill="#303030"/>
<circle cx="255.84" cy="193.5" r="0.75" fill="#303030"/>
<circle cx="255.84" cy="194.5" r="0.75" fill="#303030"/>
<circle cx="255.84" cy="195.5" r="0.75" fill="#303030"/>
<circle cx="255.84" cy="196.5" r="0.75" fill="#303030"/>
<circle cx="255.84" cy="197.5" r="0.75" fill="#303030"/>
<circle cx="255.84" cy="198.5" r="0.75" fill="#303030"/>
<circle cx="255.84" cy="199.5" r="0.75" fill="#303030"/>
<circle cx="255.84" cy="200.5" r="0.75" fill="#303030"/>
<circle cx="255.84" cy="201.5" r="0.75" fill="#303030"/>
<circle cx="255.84" cy="202.5" r="0.75" fill="#303030"/>
<circle cx="255.84" cy="203.5" r="0.75" fill="#303030"/>
<circle cx="255.84" cy="204.5" r="0.75" fill="#303030"/>
<circle cx="255.84" cy="205.5" r="0.75" fill="#303030"/>
<circle cx="255.84" cy="206.5" r="0.75" fill="#303030"/>
<circle cx="255.84" cy="207.5" r="0.75" fill="#303030"/>
<circle cx="255.84" cy="208.5" r="0.75" fill="#303030"/>
<circle cx="255.84" cy="209.5" r="0.75" fill="#303030"/>
<circle cx="255.84" cy="210.5" r="0.75" fill="#303030"/>
<circle cx="255.84" cy="211.5" r="0.75" fill="#303030"/>
<circle cx="255.84" cy="212.5" r="0.75" fill="#303030"/>
<circle cx="255.84" cy="218.5" r="0.66" fill="#303030"/>
<circle cx="255.84" cy="221" r="0.66" fill="#303030"/>
<circle cx="255.84" cy="223" r="0.66" fill="#303030"/>
<circle cx="255.84" cy="227.5" r="0.66" fill="#303030"/>
<circle cx="255.84" cy="235" r="0.66" fill="#303030"/>
<circle cx="255.84" cy="246.5" r="0.66" fill="#303030"/>
<circle cx="275.55" cy="191.5" r="0.75" fill="#303030"/>
<circle cx="275.55" cy="192.53" r="0.75" fill="#303030"/>
<circle cx="275.55" cy="193.56" r="0.75" fill="#303030"/>
<circle cx="275.55" cy="194.59" r="0.75" fill="#303030"/>
<circle cx="275.55" cy="195.62" r="0.75" fill="#303030"/>
<circle cx="275.55" cy="196.66" r="0.75" fill="#303030"/>
<circle cx="275.55" cy="197.69" r="0.75" fill="#303030"/>
<circle cx="275.55" cy="198.72" r="0.75" fill="#303030"/>
<circle cx="275.55" cy="199.75" r="0.75" fill="#303030"/>
<circle cx="275.55" cy="200.78" r="0.75" fill="#303030"/>
<circle cx="275.55" cy="201.81" r="0.75" fill="#303030"/>
<circle cx="275.55" cy="202.84" r="0.75" fill="#303030"/>
<circle cx="275.55" cy="203.88" r="0.75" fill="#303030"/>
<circle cx="275.55" cy="204.91" r="0.75" fill="#303030"/>
<circle cx="275.55" cy="205.94" r="0.75" fill="#303030"/>
<circle cx="275.55" cy="206.97" r="0.75" fill="#303030"/>
<circle cx="275.55" cy="208" r="0.75" fill="#303030"/>
<circle cx="275.55" cy="209.5" r="0.66" fill="#303030"/>
<circle cx="275.55" cy="212" r="0.66" fill="#303030"/>
<circle cx="275.55" cy="217" r="0.66" fill="#303030"/>
<circle cx="275.55" cy="220" r="0.66" fill="#303030"/>
<circle cx="275.55" cy="222" r="0.66" fill="#303030"/>
<circle cx="275.55" cy="224" r="0.66" fill="#303030"/>
<circle cx="275.55" cy="227.5" r="0.66" fill="#303030"/>
<circle cx="287.38" cy="209.3" r="0.66" fill="#303030"/>
<circle cx="295.26" cy="191.5" r="0.75" fill="#303030"/>
<circle cx="295.26" cy="192.53" r="0.75" fill="#303030"/>
<circle cx="295.26" cy="193.55" r="0.75" fill="#303030"/>
<circle cx="295.26" cy="194.57" r="0.75" fill="#303030"/>
<circle cx="295.26" cy="195.6" r="0.75" fill="#303030"/>
<circle cx="295.26" cy="196.62" r="0.75" fill="#303030"/>
<circle cx="295.26" cy="197.65" r="0.75" fill="#303030"/>
<circle cx="295.26" cy="198.68" r="0.75" fill="#303030"/>
<circle cx="295.26" cy="199.7" r="0.75" fill="#303030"/>
<circle cx="295.26" cy="200.72" r="0.75" fill="#303030"/>
<circle cx="295.26" cy="201.75" r="0.75" fill="#303030"/>
<circle cx="295.26" cy="202.78" r="0.75" fill="#303030"/>
<circle cx="295.26" cy="203.8" r="0.75" fill="#303030"/>
<circle cx="295.26" cy="204.82" r="0.75" fill="#303030"/>
<circle cx="295.26" cy="205.85" r="0.75" fill="#303030"/>
<circle cx="295.26" cy="206.88" r="0.75" fill="#303030"/>
<circle cx="295.26" cy="207.9" r="0.75" fill="#303030"/>
<circle cx="295.26" cy="208.93" r="0.75" fill="#303030"/>
<circle cx="295.26" cy="209.95" r="0.75" fill="#303030"/>
<circle cx="295.26" cy="210.97" r="0.75" fill="#303030"/>
<circle cx="295.26" cy="212" r="0.75" fill="#303030"/>
<circle cx="295.26" cy="217" r="0.66" fill="#303030"/>
<circle cx="295.26" cy="220.5" r="0.66" fill="#303030"/>
<circle cx="295.26" cy="227.5" r="0.66" fill="#303030"/>
<circle cx="295.26" cy="230.5" r="0.66" fill="#303030"/>
<circle cx="295.26" cy="239.4" r="0.66" fill="#303030"/>
<circle cx="314.97" cy="191.5" r="0.75" fill="#303030"/>
<circle cx="314.97" cy="192.49" r="0.75" fill="#303030"/>
<circle cx="314.97" cy="193.47" r="0.75" fill="#303030"/>
<circle cx="314.97" cy="194.46" r="0.75" fill="#303030"/>
<circle cx="314.97" cy="195.44" r="0.75" fill="#303030"/>
<circle cx="314.97" cy="196.43" r="0.75" fill="#303030"/>
<circle cx="314.97" cy="197.41" r="0.75" fill="#303030"/>
<circle cx="314.97" cy="198.4" r="0.75" fill="#303030"/>
<circle cx="314.97" cy="199.38" r="0.75" fill="#303030"/>
<circle cx="314.97" cy="200.37" r="0.75" fill="#303030"/>
<circle cx="314.97" cy="201.35" r="0.75" fill="#303030"/>
<circle cx="314.97" cy="202.34" r="0.75" fill="#303030"/>
<circle cx="314.97" cy="203.32" r="0.75" fill="#303030"/>
<circle cx="314.97" cy="204.31" r="0.75" fill="#303030"/>
<circle cx="314.97" cy="205.29" r="0.75" fill="#303030"/>
<circle cx="314.97" cy="206.28" r="0.75" fill="#303030"/>
<circle cx="314.97" cy="207.26" r="0.75" fill="#303030"/>
<circle cx="314.97" cy="208.25" r="0.75" fill="#303030"/>
<circle cx="314.97" cy="209.24" r="0.75" fill="#303030"/>
<circle cx="314.97" cy="210.22" r="0.75" fill="#303030"/>
<circle cx="314.97" cy="211.21" r="0.75" fill="#303030"/>
<circle cx="314.97" cy="212.19" r="0.75" fill="#303030"/>
<circle cx="314.97" cy="213.18" r="0.75" fill="#303030"/>
<circle cx="314.97" cy="214.16" r="0.75" fill="#303030"/>
<circle cx="314.97" cy="215.15" r="0.75" fill="#303030"/>
<circle cx="314.97" cy="216.13" r="0.75" fill="#303030"/>
<circle cx="314.97" cy="217.12" r="0.75" fill="#303030"/>
<circle cx="314.97" cy="218.1" r="0.75" fill="#303030"/>
<circle cx="314.97" cy="219.09" r="0.75" fill="#303030"/>
<circle cx="314.97" cy="220.07" r="0.75" fill="#303030"/>
<circle cx="314.97" cy="221.06" r="0.75" fill="#303030"/>
<circle cx="314.97" cy="222.04" r="0.75" fill="#303030"/>
<circle cx="314.97" cy="223.03" r="0.75" fill="#303030"/>
<circle cx="314.97" cy="224.01" r="0.75" fill="#303030"/>
<circle cx="314.97" cy="225" r="0.75" fill="#303030"/>
<circle cx="314.97" cy="227.5" r="0.66" fill="#303030"/>
<circle cx="314.97" cy="231.5" r="0.66" fill="#303030"/>
<circle cx="334.68" cy="191.5" r="0.75" fill="#303030"/>
<circle cx="334.68" cy="192.48" r="0.75" fill="#303030"/>
<circle cx="334.68" cy="193.46" r="0.75" fill="#303030"/>
<circle cx="334.68" cy="194.44" r="0.75" fill="#303030"/>
<circle cx="334.68" cy="195.42" r="0.75" fill="#303030"/>
<circle cx="334.68" cy="196.4" r="0.75" fill="#303030"/>
<circle cx="334.68" cy="197.38" r="0.75" fill="#303030"/>
<circle cx="334.68" cy="198.37" r="0.75" fill="#303030"/>
<circle cx="334.68" cy="199.35" r="0.75" fill="#303030"/>
<circle cx="334.68" cy="200.33" r="0.75" fill="#303030"/>
<circle cx="334.68" cy="201.31" r="0.75" fill="#303030"/>
<circle cx="334.68" cy="202.29" r="0.75" fill="#303030"/>
<circle cx="334.68" cy="203.27" r="0.75" fill="#303030"/>
<circle cx="334.68" cy="204.25" r="0.75" fill="#303030"/>
<circle cx="334.68" cy="205.23" r="0.75" fill="#303030"/>
<circle cx="334.68" cy="206.21" r="0.75" fill="#303030"/>
<circle cx="334.68" cy="207.19" r="0.75" fill="#303030"/>
<circle cx="334.68" cy="208.17" r="0.75" fill="#303030"/>
<circle cx="334.68" cy="209.15" r="0.75" fill="#303030"/>
<circle cx="334.68" cy="210.13" r="0.75" fill="#303030"/>
<circle cx="334.68" cy="211.12" r="0.75" fill="#303030"/>
<circle cx="334.68" cy="212.1" r="0.75" fill="#303030"/>
<circle cx="334.68" cy="213.08" r="0.75" fill="#303030"/>
<circle cx="334.68" cy="214.06" r="0.75" fill="#303030"/>
<circle cx="334.68" cy="215.04" r="0.75" fill="#303030"/>
<circle cx="334.68" cy="216.02" r="0.75" fill="#303030"/>
<circle cx="334.68" cy="217" r="0.75" fill="#303030"/>
<circle cx="334.68" cy="219" r="0.66" fill="#303030"/>
<circle cx="334.68" cy="221.5" r="0.66" fill="#303030"/>
<circle cx="334.68" cy="224.5" r="0.66" fill="#303030"/>
<circle cx="334.68" cy="235" r="0.66" fill="#303030"/>
<circle cx="354.39" cy="195" r="0.66" fill="#303030"/>
<circle cx="354.39" cy="205.5" r="0.66" fill="#303030"/>
<circle cx="354.39" cy="218" r="0.66" fill="#303030"/>
<path d="M313.29,197.07 L311.72,196.7 L310.07,196.35 L308.35,196.02 L306.57,195.72 L304.72,195.44 L302.82,195.18 L300.86,194.95 L298.86,194.74 L296.82,194.56 L294.74,194.41 L292.63,194.28 L290.5,194.18 L288.35,194.11 L286.19,194.07 L284.03,194.06 L281.86,194.07 L279.7,194.11 L277.55,194.18 L275.42,194.28 L273.31,194.41 L271.23,194.56 L269.19,194.74 L267.19,194.95 L265.23,195.18 L263.33,195.44 L261.48,195.72 L259.7,196.02 L257.98,196.35 L256.33,196.7 L254.76,197.07 L253.27,197.46 L251.86,197.87 L250.54,198.3 L249.31,198.75 L248.18,199.21 L247.15,199.68 L246.21,200.17 L245.38,200.67 L244.66,201.17 L244.04,201.69 L243.54,202.21 L243.14,202.75 L242.86,203.28 L242.69,203.82 L242.63,204.36 L242.69,204.9 L242.86,205.43 L243.14,205.97 L243.54,206.5 L244.04,207.02 L244.66,207.54 L245.38,208.05 L246.21,208.55 L247.15,209.03 L248.18,209.51 L249.31,209.97 L250.54,210.41 L251.86,210.84 L253.27,211.25 L254.76,211.64 L256.33,212.01 L257.98,212.36 L259.7,212.69 L261.48,213 L263.33,213.28 L265.23,213.53 L267.19,213.77 L269.19,213.97 L271.23,214.15 L273.31,214.31 L275.42,214.43 L277.55,214.53 L279.7,214.6 L281.86,214.64 L284.03,214.66 L286.19,214.64 L288.35,214.6 L290.5,214.53 L292.63,214.43 L294.74,214.31 L296.82,214.15 L298.86,213.97 L300.86,213.77 L302.82,213.53 L304.72,213.28 L306.57,213 L308.35,212.69 L310.07,212.36 L311.72,212.01 L313.29,211.64 L314.78,211.25 L316.19,210.84 L317.51,210.41 L318.74,209.97 L319.87,209.51 L320.9,209.03 L321.84,208.55 L322.67,208.05 L323.39,207.54 L324.01,207.02 L324.51,206.5 L324.91,205.97 L325.19,205.43 L325.36,204.9 L325.42,204.36 L325.36,203.82 L325.19,203.28 L324.91,202.75 L324.51,202.21 L324.01,201.69 L323.39,201.17 L322.67,200.67 L321.84,200.17 L320.9,199.68 L319.87,199.21 L318.74,198.75 L317.51,198.3 L316.19,197.87 L314.78,197.46 L313.29,197.07Z" fill="none" stroke="#707070" stroke-width="1.0"/>
<path d="M196.6,201.8 C199.93,201.88 209.98,202.13 216.6,202.3 C223.22,202.47 229.73,202.67 236.3,202.8 C242.87,202.93 249.45,203.02 256,203.1 C262.55,203.18 265.77,203.27 275.6,203.3 C285.43,203.33 301.88,203.3 315,203.3 C328.12,203.3 347.75,203.3 354.3,203.3" fill="none" stroke="#ff8080" stroke-width="1.0" stroke-linejoin="round"/>
<circle cx="283.5" cy="204.2" r="1.55" fill="#ff0000"/>
<rect x="15.4" y="28.9" width="169.6" height="74.7" fill="none" stroke="#a8a8a8" stroke-width="1.45"/>
<rect x="190.6" y="28.9" width="169.9" height="74.7" fill="none" stroke="#a8a8a8" stroke-width="1.45"/>
<rect x="366.3" y="28.9" width="169.7" height="74.7" fill="none" stroke="#a8a8a8" stroke-width="1.45"/>
<rect x="15.4" y="109.45" width="169.6" height="74.7" fill="none" stroke="#a8a8a8" stroke-width="1.45"/>
<rect x="190.6" y="109.45" width="169.9" height="74.7" fill="none" stroke="#a8a8a8" stroke-width="1.45"/>
<rect x="366.3" y="109.45" width="169.7" height="74.7" fill="none" stroke="#a8a8a8" stroke-width="1.45"/>
<rect x="15.4" y="189.75" width="169.6" height="74.45" fill="none" stroke="#a8a8a8" stroke-width="1.45"/>
<rect x="190.6" y="189.75" width="169.9" height="74.45" fill="none" stroke="#a8a8a8" stroke-width="1.45"/>
<rect x="366.3" y="189.75" width="169.7" height="74.45" fill="none" stroke="#a8a8a8" stroke-width="1.45"/>
<line x1="196.71" y1="28.9" x2="196.71" y2="26.1" stroke="#555" stroke-width="0.8"/>
<text x="196.71" y="22.2" text-anchor="middle" dominant-baseline="central" font-family="Liberation Sans, Arial, sans-serif" font-size="5.1" fill="#111" stroke="#111" stroke-width="0.18">0</text>
<line x1="236.13" y1="28.9" x2="236.13" y2="26.1" stroke="#555" stroke-width="0.8"/>
<text x="236.13" y="22.2" text-anchor="middle" dominant-baseline="central" font-family="Liberation Sans, Arial, sans-serif" font-size="5.1" fill="#111" stroke="#111" stroke-width="0.18">2</text>
<line x1="275.55" y1="28.9" x2="275.55" y2="26.1" stroke="#555" stroke-width="0.8"/>
<text x="275.55" y="22.2" text-anchor="middle" dominant-baseline="central" font-family="Liberation Sans, Arial, sans-serif" font-size="5.1" fill="#111" stroke="#111" stroke-width="0.18">4</text>
<line x1="314.97" y1="28.9" x2="314.97" y2="26.1" stroke="#555" stroke-width="0.8"/>
<text x="314.97" y="22.2" text-anchor="middle" dominant-baseline="central" font-family="Liberation Sans, Arial, sans-serif" font-size="5.1" fill="#111" stroke="#111" stroke-width="0.18">6</text>
<line x1="354.39" y1="28.9" x2="354.39" y2="26.1" stroke="#555" stroke-width="0.8"/>
<text x="354.39" y="22.2" text-anchor="middle" dominant-baseline="central" font-family="Liberation Sans, Arial, sans-serif" font-size="5.1" fill="#111" stroke="#111" stroke-width="0.18">8</text>
<line x1="536" y1="100.83" x2="538.8" y2="100.83" stroke="#555" stroke-width="0.8"/>
<text x="544.2" y="100.83" transform="rotate(-90 544.2 100.83)" text-anchor="middle" dominant-baseline="central" font-family="Liberation Sans, Arial, sans-serif" font-size="5.1" fill="#111" stroke="#111" stroke-width="0.18">0</text>
<line x1="536" y1="87" x2="538.8" y2="87" stroke="#555" stroke-width="0.8"/>
<text x="544.2" y="87" transform="rotate(-90 544.2 87)" text-anchor="middle" dominant-baseline="central" font-family="Liberation Sans, Arial, sans-serif" font-size="5.1" fill="#111" stroke="#111" stroke-width="0.18">1</text>
<line x1="536" y1="73.17" x2="538.8" y2="73.17" stroke="#555" stroke-width="0.8"/>
<text x="544.2" y="73.17" transform="rotate(-90 544.2 73.17)" text-anchor="middle" dominant-baseline="central" font-family="Liberation Sans, Arial, sans-serif" font-size="5.1" fill="#111" stroke="#111" stroke-width="0.18">2</text>
<line x1="536" y1="59.33" x2="538.8" y2="59.33" stroke="#555" stroke-width="0.8"/>
<text x="544.2" y="59.33" transform="rotate(-90 544.2 59.33)" text-anchor="middle" dominant-baseline="central" font-family="Liberation Sans, Arial, sans-serif" font-size="5.1" fill="#111" stroke="#111" stroke-width="0.18">3</text>
<line x1="536" y1="45.5" x2="538.8" y2="45.5" stroke="#555" stroke-width="0.8"/>
<text x="544.2" y="45.5" transform="rotate(-90 544.2 45.5)" text-anchor="middle" dominant-baseline="central" font-family="Liberation Sans, Arial, sans-serif" font-size="5.1" fill="#111" stroke="#111" stroke-width="0.18">4</text>
<line x1="536" y1="31.67" x2="538.8" y2="31.67" stroke="#555" stroke-width="0.8"/>
<text x="544.2" y="31.67" transform="rotate(-90 544.2 31.67)" text-anchor="middle" dominant-baseline="central" font-family="Liberation Sans, Arial, sans-serif" font-size="5.1" fill="#111" stroke="#111" stroke-width="0.18">5</text>
<line x1="15.4" y1="181.44" x2="12.6" y2="181.44" stroke="#555" stroke-width="0.8"/>
<text x="7.7" y="181.44" transform="rotate(-90 7.7 181.44)" text-anchor="middle" dominant-baseline="central" font-family="Liberation Sans, Arial, sans-serif" font-size="5.1" fill="#111" stroke="#111" stroke-width="0.18">0</text>
<line x1="15.4" y1="163.99" x2="12.6" y2="163.99" stroke="#555" stroke-width="0.8"/>
<text x="7.7" y="163.99" transform="rotate(-90 7.7 163.99)" text-anchor="middle" dominant-baseline="central" font-family="Liberation Sans, Arial, sans-serif" font-size="5.1" fill="#111" stroke="#111" stroke-width="0.18">2</text>
<line x1="15.4" y1="146.54" x2="12.6" y2="146.54" stroke="#555" stroke-width="0.8"/>
<text x="7.7" y="146.54" transform="rotate(-90 7.7 146.54)" text-anchor="middle" dominant-baseline="central" font-family="Liberation Sans, Arial, sans-serif" font-size="5.1" fill="#111" stroke="#111" stroke-width="0.18">4</text>
<line x1="15.4" y1="129.08" x2="12.6" y2="129.08" stroke="#555" stroke-width="0.8"/>
<text x="7.7" y="129.08" transform="rotate(-90 7.7 129.08)" text-anchor="middle" dominant-baseline="central" font-family="Liberation Sans, Arial, sans-serif" font-size="5.1" fill="#111" stroke="#111" stroke-width="0.18">6</text>
<line x1="15.4" y1="111.63" x2="12.6" y2="111.63" stroke="#555" stroke-width="0.8"/>
<text x="7.7" y="111.63" transform="rotate(-90 7.7 111.63)" text-anchor="middle" dominant-baseline="central" font-family="Liberation Sans, Arial, sans-serif" font-size="5.1" fill="#111" stroke="#111" stroke-width="0.18">8</text>
<line x1="21.68" y1="264.2" x2="21.68" y2="267" stroke="#555" stroke-width="0.8"/>
<text x="21.68" y="273.1" text-anchor="middle" dominant-baseline="central" font-family="Liberation Sans, Arial, sans-serif" font-size="5.1" fill="#111" stroke="#111" stroke-width="0.18">0</text>
<line x1="53.09" y1="264.2" x2="53.09" y2="267" stroke="#555" stroke-width="0.8"/>
<text x="53.09" y="273.1" text-anchor="middle" dominant-baseline="central" font-family="Liberation Sans, Arial, sans-serif" font-size="5.1" fill="#111" stroke="#111" stroke-width="0.18">1</text>
<line x1="84.5" y1="264.2" x2="84.5" y2="267" stroke="#555" stroke-width="0.8"/>
<text x="84.5" y="273.1" text-anchor="middle" dominant-baseline="central" font-family="Liberation Sans, Arial, sans-serif" font-size="5.1" fill="#111" stroke="#111" stroke-width="0.18">2</text>
<line x1="115.9" y1="264.2" x2="115.9" y2="267" stroke="#555" stroke-width="0.8"/>
<text x="115.9" y="273.1" text-anchor="middle" dominant-baseline="central" font-family="Liberation Sans, Arial, sans-serif" font-size="5.1" fill="#111" stroke="#111" stroke-width="0.18">3</text>
<line x1="147.31" y1="264.2" x2="147.31" y2="267" stroke="#555" stroke-width="0.8"/>
<text x="147.31" y="273.1" text-anchor="middle" dominant-baseline="central" font-family="Liberation Sans, Arial, sans-serif" font-size="5.1" fill="#111" stroke="#111" stroke-width="0.18">4</text>
<line x1="178.72" y1="264.2" x2="178.72" y2="267" stroke="#555" stroke-width="0.8"/>
<text x="178.72" y="273.1" text-anchor="middle" dominant-baseline="central" font-family="Liberation Sans, Arial, sans-serif" font-size="5.1" fill="#111" stroke="#111" stroke-width="0.18">5</text>
<line x1="379.6" y1="264.2" x2="379.6" y2="267" stroke="#555" stroke-width="0.8"/>
<text x="379.6" y="273.1" text-anchor="middle" dominant-baseline="central" font-family="Liberation Sans, Arial, sans-serif" font-size="5.1" fill="#111" stroke="#111" stroke-width="0.18">20</text>
<line x1="404.54" y1="264.2" x2="404.54" y2="267" stroke="#555" stroke-width="0.8"/>
<text x="404.54" y="273.1" text-anchor="middle" dominant-baseline="central" font-family="Liberation Sans, Arial, sans-serif" font-size="5.1" fill="#111" stroke="#111" stroke-width="0.18">40</text>
<line x1="429.49" y1="264.2" x2="429.49" y2="267" stroke="#555" stroke-width="0.8"/>
<text x="429.49" y="273.1" text-anchor="middle" dominant-baseline="central" font-family="Liberation Sans, Arial, sans-serif" font-size="5.1" fill="#111" stroke="#111" stroke-width="0.18">60</text>
<line x1="454.43" y1="264.2" x2="454.43" y2="267" stroke="#555" stroke-width="0.8"/>
<text x="454.43" y="273.1" text-anchor="middle" dominant-baseline="central" font-family="Liberation Sans, Arial, sans-serif" font-size="5.1" fill="#111" stroke="#111" stroke-width="0.18">80</text>
<line x1="479.38" y1="264.2" x2="479.38" y2="267" stroke="#555" stroke-width="0.8"/>
<text x="479.38" y="273.1" text-anchor="middle" dominant-baseline="central" font-family="Liberation Sans, Arial, sans-serif" font-size="5.1" fill="#111" stroke="#111" stroke-width="0.18">100</text>
<line x1="504.32" y1="264.2" x2="504.32" y2="267" stroke="#555" stroke-width="0.8"/>
<text x="504.32" y="273.1" text-anchor="middle" dominant-baseline="central" font-family="Liberation Sans, Arial, sans-serif" font-size="5.1" fill="#111" stroke="#111" stroke-width="0.18">120</text>
<line x1="529.26" y1="264.2" x2="529.26" y2="267" stroke="#555" stroke-width="0.8"/>
<text x="529.26" y="273.1" text-anchor="middle" dominant-baseline="central" font-family="Liberation Sans, Arial, sans-serif" font-size="5.1" fill="#111" stroke="#111" stroke-width="0.18">140</text>
<line x1="536" y1="257.71" x2="538.8" y2="257.71" stroke="#555" stroke-width="0.8"/>
<text x="544.2" y="257.71" transform="rotate(-90 544.2 257.71)" text-anchor="middle" dominant-baseline="central" font-family="Liberation Sans, Arial, sans-serif" font-size="5.1" fill="#111" stroke="#111" stroke-width="0.18">20</text>
<line x1="536" y1="246.81" x2="538.8" y2="246.81" stroke="#555" stroke-width="0.8"/>
<text x="544.2" y="246.81" transform="rotate(-90 544.2 246.81)" text-anchor="middle" dominant-baseline="central" font-family="Liberation Sans, Arial, sans-serif" font-size="5.1" fill="#111" stroke="#111" stroke-width="0.18">40</text>
<line x1="536" y1="235.91" x2="538.8" y2="235.91" stroke="#555" stroke-width="0.8"/>
<text x="544.2" y="235.91" transform="rotate(-90 544.2 235.91)" text-anchor="middle" dominant-baseline="central" font-family="Liberation Sans, Arial, sans-serif" font-size="5.1" fill="#111" stroke="#111" stroke-width="0.18">60</text>
<line x1="536" y1="225.01" x2="538.8" y2="225.01" stroke="#555" stroke-width="0.8"/>
<text x="544.2" y="225.01" transform="rotate(-90 544.2 225.01)" text-anchor="middle" dominant-baseline="central" font-family="Liberation Sans, Arial, sans-serif" font-size="5.1" fill="#111" stroke="#111" stroke-width="0.18">80</text>
<line x1="536" y1="214.11" x2="538.8" y2="214.11" stroke="#555" stroke-width="0.8"/>
<text x="544.2" y="214.11" transform="rotate(-90 544.2 214.11)" text-anchor="middle" dominant-baseline="central" font-family="Liberation Sans, Arial, sans-serif" font-size="5.1" fill="#111" stroke="#111" stroke-width="0.18">100</text>
<line x1="536" y1="203.21" x2="538.8" y2="203.21" stroke="#555" stroke-width="0.8"/>
<text x="544.2" y="203.21" transform="rotate(-90 544.2 203.21)" text-anchor="middle" dominant-baseline="central" font-family="Liberation Sans, Arial, sans-serif" font-size="5.1" fill="#111" stroke="#111" stroke-width="0.18">120</text>
<line x1="536" y1="192.31" x2="538.8" y2="192.31" stroke="#555" stroke-width="0.8"/>
<text x="544.2" y="192.31" transform="rotate(-90 544.2 192.31)" text-anchor="middle" dominant-baseline="central" font-family="Liberation Sans, Arial, sans-serif" font-size="5.1" fill="#111" stroke="#111" stroke-width="0.18">140</text>
</svg>
</body></html>
